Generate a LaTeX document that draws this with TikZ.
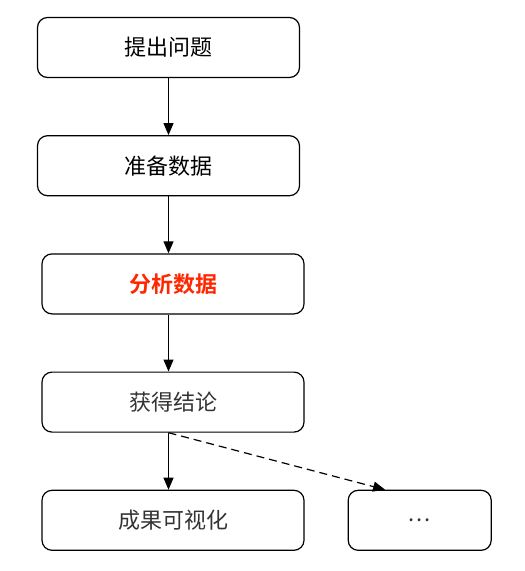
\documentclass[tikz,border=0pt]{standalone}
\usepackage{fontspec}
\setmainfont{Noto Sans CJK SC}[BoldFont={Noto Sans CJK SC Bold}]
\usepackage{tikz}
\usetikzlibrary{positioning, arrows.meta, calc}
\definecolor{keyred}{RGB}{255,38,0}
\definecolor{darktext}{RGB}{51,51,51}
\tikzset{
  stepbox/.style={rectangle, rounded corners=10pt, minimum width=262pt, minimum height=60pt, text centered, draw=black, line width=1.2pt, font=\fontsize{22}{26}\selectfont},
  keystep/.style={stepbox, text=keyred, font=\fontsize{22}{26}\selectfont\bfseries},
  arrow/.style={line width=1.2pt, -{Triangle[length=12pt, width=10pt]}},
  maybearrow/.style={arrow, dash pattern=on 8pt off 5pt}
}
\begin{document}
\begin{tikzpicture}[
    node distance=57pt and 43pt
]
    \useasboundingbox (0,0) rectangle (525pt,-571pt);
    \node (tichu) [stepbox] at (168.5pt,-47.5pt) {提出问题};
    \node (zhunbei) [stepbox, below=of tichu] {准备数据};
    \node (fenxi) [keystep, below=of zhunbei, xshift=4.5pt] {分析数据};
    \node (jielun) [stepbox, text=darktext, below=of fenxi] {获得结论};
    \node (chengguo) [stepbox, text=darktext, below=of jielun] {成果可视化};
    \node (gengduo) [stepbox, text=darktext, minimum width=143pt, right=of chengguo] {.\kern2pt.\kern2pt.};

    \draw [arrow] (tichu) -- (zhunbei);
    \draw [arrow] (zhunbei) -- (zhunbei |- fenxi.north);
    \draw [arrow] (fenxi.south -| tichu) -- (jielun.north -| tichu);
    \draw [arrow] (jielun.south -| tichu) -- (chengguo.north -| tichu);
    \draw [maybearrow] (jielun.south -| tichu) -- ($(gengduo.north west)!0.26!(gengduo.north east)$);
\end{tikzpicture}
\end{document}
